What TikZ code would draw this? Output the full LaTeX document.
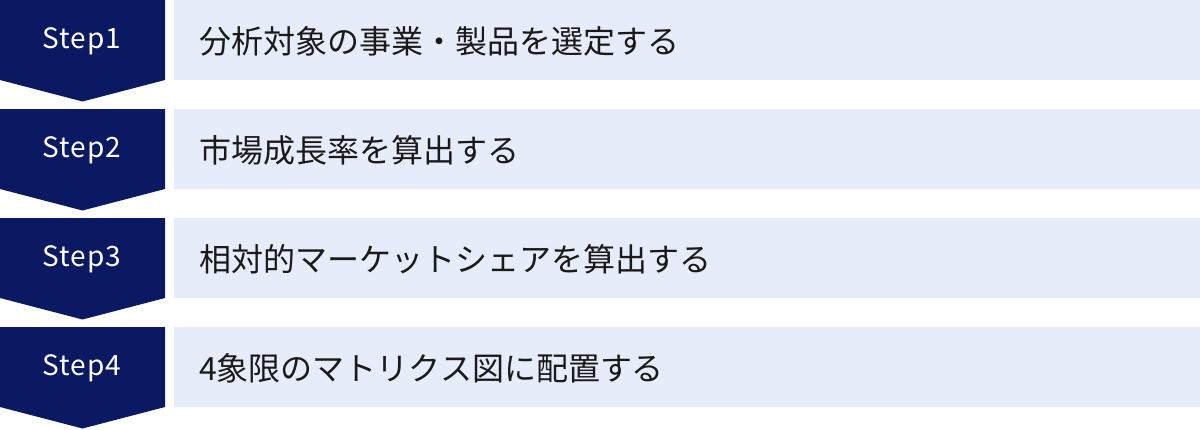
\documentclass[tikz,border=0pt]{standalone}
\usepackage{fontspec}
\setmainfont{Noto Sans CJK JP}
\newfontfamily\jpfont{Noto Sans CJK JP}
\newfontfamily\stepfont[LetterSpace=4]{Noto Sans CJK JP}
\definecolor{navy}{HTML}{0B1962}
\definecolor{lightbox}{HTML}{E6ECF9}
\definecolor{txt}{HTML}{1A1A1A}
\begin{document}
\begin{tikzpicture}[x=1pt,y=-1pt,
  steptext/.style={text=white,font=\stepfont\fontsize{28}{28}\selectfont,anchor=center,inner sep=0pt},
  desctext/.style={text=txt,font=\jpfont\fontsize{32}{32}\selectfont,anchor=west,inner sep=0pt},
  descbox/.style={fill=lightbox},
  chevron/.style={fill=navy}]
\useasboundingbox (0,0) rectangle (1200,429);
\foreach \i/\lab/\desc in {0/Step1/分析対象の事業・製品を選定する,1/Step2/市場成長率を算出する,2/Step3/相対的マーケットシェアを算出する,3/Step4/4象限のマトリクス図に配置する}{
  \pgfmathsetmacro{\yy}{109*\i}
  \fill[chevron] (0,\yy) -- (165,\yy) -- (165,\yy+80) -- (82.5,\yy+101.5) -- (0,\yy+80) -- cycle;
  \fill[descbox] (174,\yy) rectangle (1200,\yy+80);
  \node[steptext] (s\i) at (82,\yy+41) {\lab};
  \node[desctext] (d\i) at (199,\yy+41) {\desc};
}
\end{tikzpicture}
\end{document}
